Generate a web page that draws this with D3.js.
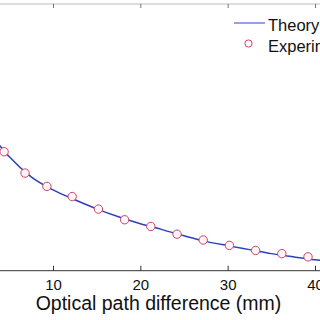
<!DOCTYPE html>
<html>
<head>
<meta charset="utf-8">
<script src="https://cdn.jsdelivr.net/npm/d3@7"></script>
<style>
  body { margin: 0; background: #fff; }
  svg { display: block; font-family: "Liberation Sans", Arial, sans-serif; }
</style>
</head>
<body>
<div id="chart"></div>
<script>
// data (y in relative units, 0 = bottom axis)
const theoryX = [3.5, 5, 7.5, 10, 12.5, 15, 17.5, 20, 22.5, 25, 27.5, 30, 32.5, 35, 37.5, 40, 42]
const theoryY = [0.485, 0.427, 0.352, 0.303, 0.266, 0.232, 0.202, 0.176, 0.154, 0.131, 0.110, 0.094, 0.079, 0.064, 0.052, 0.041, 0.034]
const expX = [4.4, 6.8, 9.3, 12.2, 15.2, 18.2, 21.2, 24.2, 27.2, 30.2, 33.2, 36.2, 39.2]
const expY = [0.446, 0.366, 0.316, 0.278, 0.231, 0.191, 0.166, 0.137, 0.115, 0.095, 0.076, 0.064, 0.052]
const xTicks = [10, 20, 30, 40]
const xLabel = 'Optical path difference (mm)'
const legendNames = ['Theory', 'Experiments']

const w = 320
const h = 320
const ptop = 4
const pbtm = 270.7

const svg = d3.select('#chart')
    .append('svg')
    .attr('width', w)
    .attr('height', h)

const xScale = d3.scaleLinear()
    .domain([10, 40])
    .range([53, 315])

const yScale = d3.scaleLinear()
    .domain([0, 1])
    .range([pbtm, ptop])

// clip to the plot box
svg.append('clipPath')
    .attr('id', 'plot')
    .append('rect')
    .attr('x', -50)
    .attr('y', ptop)
    .attr('width', w + 100)
    .attr('height', pbtm - ptop)

// top border with ticks
const topAxis = svg.append('g')
    .attr('transform', `translate(0,${ptop})`)
    .call(d3.axisTop(xScale).tickValues(xTicks).tickSize(-4).tickFormat(''))
topAxis.select('.domain').attr('stroke', '#bbb').attr('d', `M-10,0H${w + 10}`)
topAxis.selectAll('.tick line').attr('stroke', '#777')

// bottom axis
const xAxis = svg.append('g')
    .attr('transform', `translate(0,${pbtm})`)
    .call(d3.axisBottom(xScale).tickValues(xTicks).tickSize(-5).tickPadding(8.5))
xAxis.select('.domain').attr('stroke', '#333').attr('d', `M-10,0H${w + 10}`)
xAxis.selectAll('.tick line').attr('stroke', '#333')
xAxis.selectAll('.tick text')
    .attr('font-size', 15)
    .attr('font-family', '"Liberation Sans", Arial, sans-serif')
    .attr('fill', '#111')

// axis title
svg.append('text')
    .attr('x', 158.5)
    .attr('y', 310)
    .attr('text-anchor', 'middle')
    .attr('font-size', 19.5)
    .attr('fill', '#111')
    .text(xLabel)

const plot = svg.append('g').attr('clip-path', 'url(#plot)')

// theory curve
const line = d3.line()
    .x((d, i) => xScale(theoryX[i]))
    .y(d => yScale(d))
    .curve(d3.curveMonotoneX)

plot.append('path')
    .datum(theoryY)
    .attr('fill', 'none')
    .attr('stroke', '#2c3fc0')
    .attr('stroke-width', 1.5)
    .attr('d', line)

// experiment markers
plot.selectAll('circle.exp')
    .data(expY)
    .enter()
    .append('circle')
    .attr('class', 'exp')
    .attr('cx', (d, i) => xScale(expX[i]))
    .attr('cy', d => yScale(d))
    .attr('r', 4.2)
    .attr('fill', '#fff6f8')
    .attr('stroke', '#d0406a')
    .attr('stroke-width', 1)

// legend
const legend = svg.append('g')
legend.append('line')
    .attr('x1', 234).attr('x2', 265)
    .attr('y1', 23).attr('y2', 23)
    .attr('stroke', '#5060e0')
    .attr('stroke-width', 1.2)
legend.append('circle')
    .attr('cx', 248.5).attr('cy', 43.5)
    .attr('r', 3.6)
    .attr('fill', '#fff')
    .attr('stroke', '#d0406a')
    .attr('stroke-width', 1)
legend.selectAll('text')
    .data(legendNames)
    .enter()
    .append('text')
    .attr('x', 268)
    .attr('y', (d, i) => 30.5 + i * 21)
    .attr('font-size', 16.5)
    .attr('fill', '#111')
    .text(d => d)
</script>
</body>
</html>
